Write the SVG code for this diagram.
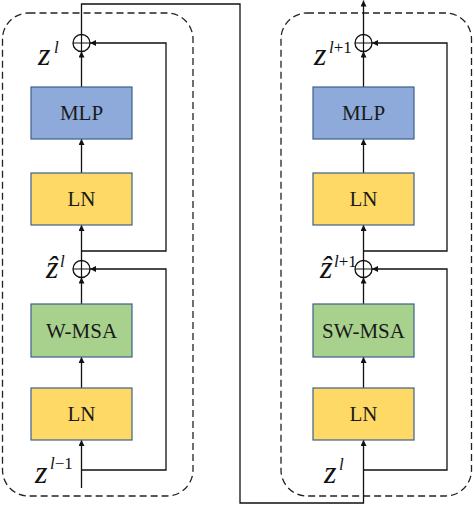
<svg xmlns="http://www.w3.org/2000/svg" width="474" height="506" viewBox="0 0 474 506">
<defs>
<style>
.frame{fill:none;stroke:#222;stroke-width:1.3;stroke-dasharray:7,4}
.box{stroke:#3b5f8c;stroke-width:1.2}
.mlp{fill:#8eaadb}
.ln{fill:#ffd966}
.msa{fill:#a9d18e}
.bt{font-family:"Liberation Serif",serif;font-size:21px;fill:#1a1a1a;text-anchor:middle}
.sum{fill:#fff;stroke:#111;stroke-width:1.3}
.conn path{fill:none;stroke:#111;stroke-width:1.3}
.z{font-family:"Liberation Serif",serif;font-style:italic;font-size:32px;fill:#111}
.sup{font-family:"Liberation Serif",serif;font-size:17px;fill:#111}
.it{font-style:italic}
</style>
<marker id="arr" viewBox="0 0 6 6" refX="6" refY="3" markerWidth="6" markerHeight="6" markerUnits="userSpaceOnUse" orient="auto">
<path d="M0,0 L6,3 L0,6 z" fill="#111"/>
</marker>
</defs>
<rect width="474" height="506" fill="#fff"/>
<rect class="frame" x="2.5" y="13" width="190.5" height="483" rx="26"/>
<rect class="frame" x="281" y="13" width="190.5" height="483" rx="26"/>
<g class="conn">
<path d="M81.5,488 V440" marker-end="url(#arr)"/>
<path d="M81.5,470 H166 V269 H90" marker-end="url(#arr)"/>
<path d="M81.5,388 V357" marker-end="url(#arr)"/>
<path d="M81.5,304 V277.5" marker-end="url(#arr)"/>
<path d="M81.5,260.5 V225" marker-end="url(#arr)"/>
<path d="M81.5,251 H166 V43 H90" marker-end="url(#arr)"/>
<path d="M81.5,173 V139" marker-end="url(#arr)"/>
<path d="M81.5,87 V51.5" marker-end="url(#arr)"/>
<path d="M81.5,34.5 V4 H240 V503 H363.5 V440" marker-end="url(#arr)"/>
<path d="M363.5,470 H447 V269 H372" marker-end="url(#arr)"/>
<path d="M363.5,388 V357" marker-end="url(#arr)"/>
<path d="M363.5,304 V277.5" marker-end="url(#arr)"/>
<path d="M363.5,260.5 V225" marker-end="url(#arr)"/>
<path d="M363.5,251 H447 V43 H372" marker-end="url(#arr)"/>
<path d="M363.5,173 V139" marker-end="url(#arr)"/>
<path d="M363.5,87 V51.5" marker-end="url(#arr)"/>
<path d="M363.5,34.5 V0.5" marker-end="url(#arr)"/>
</g>
<g id="mlp1"><rect class="box mlp" x="31" y="87" width="101" height="52"/><text class="bt" x="81.5" y="120">MLP</text></g>
<g id="ln1"><rect class="box ln" x="31" y="173" width="101" height="52"/><text class="bt" x="81.5" y="206">LN</text></g>
<g id="wmsa"><rect class="box msa" x="31" y="304" width="101" height="53"/><text class="bt" x="81.5" y="338">W-MSA</text></g>
<g id="ln2"><rect class="box ln" x="31" y="388" width="101" height="52"/><text class="bt" x="81.5" y="421">LN</text></g>
<g id="sum1"><circle class="sum" cx="81.5" cy="43" r="8.5"/><path d="M73,43 H90 M81.5,34.5 V51.5" stroke="#111" stroke-width="1.2"/></g>
<g id="sum2"><circle class="sum" cx="81.5" cy="269" r="8.5"/><path d="M73,269 H90 M81.5,260.5 V277.5" stroke="#111" stroke-width="1.2"/></g>
<g id="mlp2"><rect class="box mlp" x="313" y="87" width="101" height="52"/><text class="bt" x="363.5" y="120">MLP</text></g>
<g id="ln3"><rect class="box ln" x="313" y="173" width="101" height="52"/><text class="bt" x="363.5" y="206">LN</text></g>
<g id="swmsa"><rect class="box msa" x="313" y="304" width="101" height="53"/><text class="bt" x="363.5" y="338">SW-MSA</text></g>
<g id="ln4"><rect class="box ln" x="313" y="388" width="101" height="52"/><text class="bt" x="363.5" y="421">LN</text></g>
<g id="sum3"><circle class="sum" cx="363.5" cy="43" r="8.5"/><path d="M355,43 H372 M363.5,34.5 V51.5" stroke="#111" stroke-width="1.2"/></g>
<g id="sum4"><circle class="sum" cx="363.5" cy="269" r="8.5"/><path d="M355,269 H372 M363.5,260.5 V277.5" stroke="#111" stroke-width="1.2"/></g>
<g id="labels">
<text class="z" x="38" y="65">z</text><text class="sup it" x="54" y="53">l</text>
<text class="z" x="46" y="278">ẑ</text><text class="sup it" x="60" y="267">l</text>
<text class="z" x="35" y="483">z</text><text class="sup" x="50" y="469"><tspan class="it">l</tspan>−1</text>
<text class="z" x="314" y="65">z</text><text class="sup" x="329" y="53"><tspan class="it">l</tspan>+1</text>
<text class="z" x="320" y="278">ẑ</text><text class="sup" x="334" y="267"><tspan class="it">l</tspan>+1</text>
<text class="z" x="324" y="483">z</text><text class="sup it" x="339" y="470">l</text>
</g>
</svg>
